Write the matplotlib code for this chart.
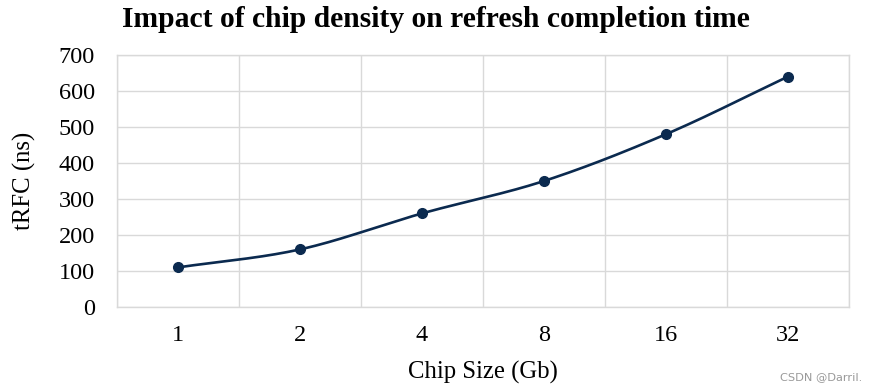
import numpy as np
import matplotlib
matplotlib.use("Agg")
import matplotlib.pyplot as plt

categories = ["1", "2", "4", "8", "16", "32"]
trfc_ns = [110, 160, 260, 350, 480, 640]
y_ticks = [0, 100, 200, 300, 400, 500, 600, 700]

line_color = "#0B2A4F"
grid_color = "#D9D9D9"
serif = ["Liberation Serif", "DejaVu Serif"]

fig = plt.figure(figsize=(8.76, 3.92), dpi=100)
ax = fig.add_axes([117/876, 1 - 307/392, (849-117)/876, (307-55)/392])

# Catmull-Rom smoothing (Excel-like smoothed line)
xs = np.arange(len(trfc_ns), dtype=float)
ys = np.array(trfc_ns, dtype=float)
px = np.concatenate([[2*xs[0]-xs[1]], xs, [2*xs[-1]-xs[-2]]])
py = np.concatenate([[2*ys[0]-ys[1]], ys, [2*ys[-1]-ys[-2]]])
cx, cy = [], []
t = np.linspace(0, 1, 40)
for i in range(1, len(px) - 2):
    for P, out in ((px, cx), (py, cy)):
        p0, p1, p2, p3 = P[i-1], P[i], P[i+1], P[i+2]
        seg = 0.5 * ((2*p1) + (-p0 + p2)*t + (2*p0 - 5*p1 + 4*p2 - p3)*t**2
                     + (-p0 + 3*p1 - 3*p2 + p3)*t**3)
        out.extend(seg)

ax.plot(cx, cy, color=line_color, lw=1.9, solid_capstyle="round", zorder=3)
ax.plot(xs, ys, "o", color=line_color, ms=7, zorder=4)

ax.set_xlim(-0.5, len(categories) - 0.5)
ax.set_ylim(0, 700)
ax.set_yticks(y_ticks)
ax.set_yticklabels([str(v) for v in y_ticks], fontfamily=serif, fontsize=17.5)
ax.set_xticks(xs)
ax.set_xticklabels(categories, fontfamily=serif, fontsize=17.5)
ax.set_xticks(np.arange(-0.5, len(categories), 1.0), minor=True)
ax.tick_params(axis="both", which="both", length=0)
ax.tick_params(axis="y", pad=16)
ax.tick_params(axis="x", pad=13)
ax.grid(True, axis="y", which="major", color=grid_color, lw=1)
ax.grid(True, axis="x", which="minor", color=grid_color, lw=1)
ax.grid(False, axis="x", which="major")
for s in ax.spines.values():
    s.set_color(grid_color)
    s.set_linewidth(1)
ax.set_axisbelow(True)

ax.set_ylabel("tRFC (ns)", fontfamily=serif, fontsize=17.8, labelpad=16)
ax.set_xlabel("Chip Size (Gb)", fontfamily=serif, fontsize=17.8, labelpad=11)
fig.text(0.498, 0.95, "Impact of chip density on refresh completion time",
         ha="center", va="center", fontfamily=serif, fontsize=21.3, fontweight="bold")
fig.text(0.984, 0.038, "CSDN @Darril.", ha="right", va="center",
         fontsize=8.2, color="#999999", fontfamily="DejaVu Sans")

fig.savefig("out.png", dpi=100)
